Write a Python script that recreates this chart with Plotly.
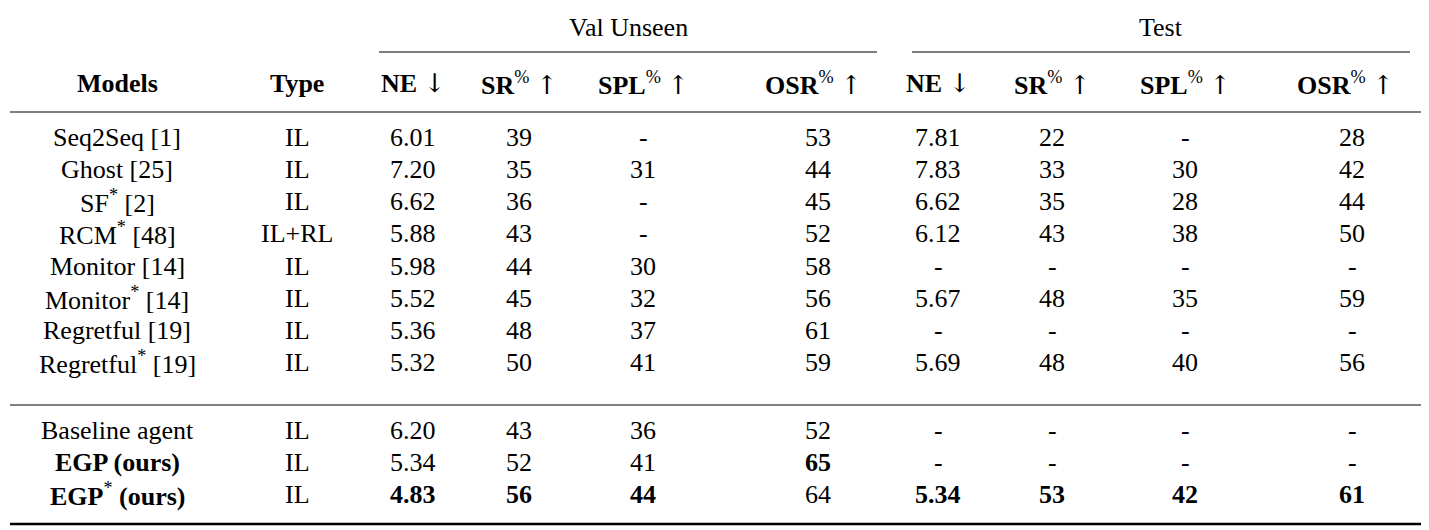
import plotly.graph_objects as go

models = ["Seq2Seq [1]", "Ghost [25]", "SF<sup>*</sup> [2]", "RCM<sup>*</sup> [48]", "Monitor [14]",
          "Monitor<sup>*</sup> [14]", "Regretful [19]", "Regretful<sup>*</sup> [19]",
          "Baseline agent", "<b>EGP (ours)</b>", "<b>EGP</b><sup>*</sup><b> (ours)</b>"]
types = ["IL", "IL", "IL", "IL+RL", "IL", "IL", "IL", "IL", "IL", "IL", "IL"]
val_ne = ["6.01", "7.20", "6.62", "5.88", "5.98", "5.52", "5.36", "5.32", "6.20", "5.34", "<b>4.83</b>"]
val_sr = ["39", "35", "36", "43", "44", "45", "48", "50", "43", "52", "<b>56</b>"]
val_spl = ["-", "31", "-", "-", "30", "32", "37", "41", "36", "41", "<b>44</b>"]
val_osr = ["53", "44", "45", "52", "58", "56", "61", "59", "52", "<b>65</b>", "64"]
test_ne = ["7.81", "7.83", "6.62", "6.12", "-", "5.67", "-", "5.69", "-", "-", "<b>5.34</b>"]
test_sr = ["22", "33", "35", "43", "-", "48", "-", "48", "-", "-", "<b>53</b>"]
test_spl = ["-", "30", "28", "38", "-", "35", "-", "40", "-", "-", "<b>42</b>"]
test_osr = ["28", "42", "44", "50", "-", "59", "-", "56", "-", "-", "<b>61</b>"]
DN = '<span style="font-family:DejaVu Serif">↓</span>'
UP = '<span style="font-family:DejaVu Serif">↑</span>'
headers = ["<b>Models</b>", "<b>Type</b>", "<b>NE</b> " + DN, "<b>SR</b><sup>%</sup> " + UP,
           "<b>SPL</b><sup>%</sup> " + UP, "<b>OSR</b><sup>%</sup> " + UP, "<b>NE</b> " + DN,
           "<b>SR</b><sup>%</sup> " + UP, "<b>SPL</b><sup>%</sup> " + UP, "<b>OSR</b><sup>%</sup> " + UP]
groups = ["Val Unseen", "Test"]

cols = [models, types, val_ne, val_sr, val_spl, val_osr, test_ne, test_sr, test_spl, test_osr]
col_x = [117, 297, 413, 519, 643, 818, 938, 1052, 1185, 1352]
hdr_x = [117, 297, 413, 519, 643, 813, 938, 1052, 1185, 1345]
row_y = [137, 169, 201, 233, 266, 298, 330, 362, 430, 462, 494]
F = dict(family="Liberation Serif", size=26, color="black")

fig = go.Figure()
ann = []
for cx, col in zip(col_x, cols):
    for y, t in zip(row_y, col):
        ann.append(dict(x=cx, y=y, text=t, showarrow=False, font=F, xanchor="center", yanchor="middle"))
for hx, h in zip(hdr_x, headers):
    ann.append(dict(x=hx, y=83, text=h, showarrow=False, font=F, xanchor="center", yanchor="middle"))
for gx, g in zip([628, 1161], groups):
    ann.append(dict(x=gx, y=27, text=g, showarrow=False, font=F, xanchor="center", yanchor="middle"))
shapes = []
def line(x0, x1, y, w):
    shapes.append(dict(type="line", x0=x0, x1=x1, y0=y, y1=y, line=dict(color="black", width=w)))
line(10, 1421, 3, 2.5)
line(379, 877, 52, 1)
line(912, 1410, 52, 1)
line(10, 1421, 112, 1.2)
line(10, 1421, 405, 1.2)
line(10, 1421, 524, 2.5)

fig.update_layout(width=1429, height=530, margin=dict(l=0, r=0, t=0, b=0),
                  plot_bgcolor="white", paper_bgcolor="white", annotations=ann, shapes=shapes,
                  xaxis=dict(range=[8, 1437], visible=False, fixedrange=True),
                  yaxis=dict(range=[538, 8], visible=False, fixedrange=True), showlegend=False)
fig.write_html("out.html")
